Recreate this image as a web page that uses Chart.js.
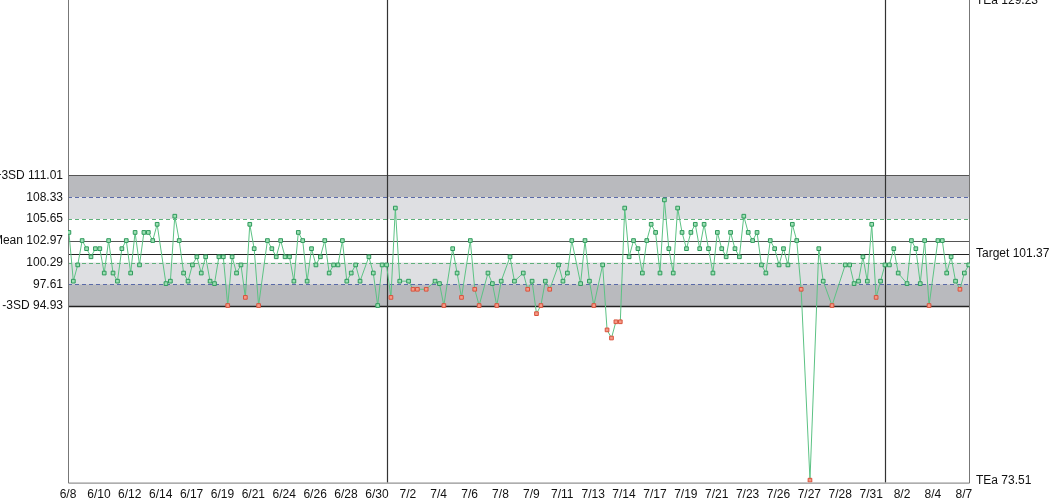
<!DOCTYPE html>
<html>
<head>
<meta charset="utf-8">
<script src="https://cdn.jsdelivr.net/npm/chart.js@4"></script>
<style>
  body { margin: 0; background: #fff; }
  #wrap { width: 1050px; height: 503px; position: relative; }
</style>
</head>
<body>
<div id="wrap"><canvas id="chart"></canvas></div>
<script>
// control runs in order, 'r' = rejected run, null = gap in run sequence
const runs = [
  '104','98','100','103','102','101','102','102','99','103','99','98','102','103','99','104','100','104','104','103','105',null,
  '97.7','98','106','103','99','98','100','101','99','101','98','97.7','101','101','95r','101','99','100','96r','105','102','95r',null,
  '103','102','101','103','101','101','98','104',
  '103','98','102','100','101','103','99','100','100','103','98','99','100','98',null,'101','99','95','100','100','96r','107','98',null,
  '98','97r','97r',null,'97r',null,'98','97.7','95r',null,'102','99','96r',null,'103','97r','95r',null,'99','97.7','95r','98',null,
  '101','98',null,'99','97r',
  '98','94r','95r','98','97r',null,'100','98','99','103',null,'97.7','103','98','95r',null,'100','92r','91r','93r','93r',
  '107','101','103','102','99','103','105','104','99','108','102','99','107','104','102','104','105','102','105','102','99',
  '104','102','101','104','102','101','106','104','103',
  '104','100','99','103','102','100','102','100','105','103','97r',null,'73.5r',null,'102','98',null,'95r',null,null,
  '100','100','97.7','98','101','98','105','96r','98','100','100','102','99',null,'97.7','103','102','97.7','103','95r',null,
  '103','103','99','101','98','97r','99','100'
];
const dateLabels = ['6/8','6/10','6/12','6/14','6/17','6/19','6/21','6/24','6/26','6/28','6/30','7/2','7/4','7/6','7/8',
  '7/9','7/11','7/13','7/14','7/17','7/19','7/21','7/23','7/26','7/27','7/28','7/31','8/2','8/4','8/7'];
const limits = { tea_hi: 129.23, sd3p: 111.01, sd2p: 108.33, sd1p: 105.65, mean: 102.97, sd1m: 100.29, sd2m: 97.61, sd3m: 94.93, tea_lo: 73.51 };
const target = 101.37;
const dividers = [10.32, 26.44]; // in date-tick units

const N = runs.length;
const xEnd = 29.13;
const pts = runs.map((r, i) => ({ x: 0.03 + i * xEnd / (N - 1), y: r === null ? null : parseFloat(r) }));
const isRed = runs.map(r => r !== null && r.endsWith('r'));
const FONT = '"Liberation Sans Narrow", "Liberation Sans", Arial, sans-serif';

const guides = {
  id: 'guides',
  beforeDatasetsDraw(chart) {
    const { ctx, chartArea: a, scales: { x, y } } = chart;
    const band = (v1, v2, c) => { ctx.fillStyle = c; ctx.fillRect(a.left, y.getPixelForValue(v1), a.right - a.left, y.getPixelForValue(v2) - y.getPixelForValue(v1)); };
    ctx.save();
    band(limits.sd3p, limits.sd2p, '#b9babe');
    band(limits.sd2p, limits.sd1p, '#dedfe2');
    band(limits.sd1m, limits.sd2m, '#dedfe2');
    band(limits.sd2m, limits.sd3m, '#b9babe');
    const hline = (v, c, dash, w) => {
      const py = Math.round(y.getPixelForValue(v)) + 0.5;
      ctx.strokeStyle = c; ctx.lineWidth = w; ctx.setLineDash(dash);
      ctx.beginPath(); ctx.moveTo(a.left, py); ctx.lineTo(a.right, py); ctx.stroke();
    };
    hline(limits.sd3p, '#555', [], 1);
    hline(limits.sd2p, '#5a6aa8', [4, 3], 1);
    hline(limits.sd1p, '#5fb07a', [4, 3], 1);
    hline(limits.mean, '#555', [], 1.2);
    hline(target, '#222', [], 1.2);
    hline(limits.sd1m, '#5fb07a', [4, 3], 1);
    hline(limits.sd2m, '#5a6aa8', [4, 3], 1);
    hline(limits.sd3m, '#222', [], 1.5);
    ctx.setLineDash([]);
    ctx.strokeStyle = '#333'; ctx.lineWidth = 1.2;
    dividers.forEach(d => {
      const px = Math.round(x.getPixelForValue(d)) + 0.5;
      ctx.beginPath(); ctx.moveTo(px, 0); ctx.lineTo(px, a.bottom); ctx.stroke();
    });
    ctx.strokeStyle = '#777'; ctx.lineWidth = 1;
    ctx.beginPath();
    ctx.moveTo(a.left + 0.5, 0); ctx.lineTo(a.left + 0.5, a.bottom + 0.5);
    ctx.lineTo(a.right - 0.5, a.bottom + 0.5); ctx.lineTo(a.right - 0.5, 0);
    ctx.stroke();
    ctx.restore();
  },
  afterDraw(chart) {
    const { ctx, chartArea: a, scales: { y } } = chart;
    ctx.save();
    ctx.font = '12px ' + FONT;
    ctx.fillStyle = '#111';
    ctx.textBaseline = 'middle';
    ctx.textAlign = 'right';
    const left = [['+3SD ' + limits.sd3p.toFixed(2), limits.sd3p], [limits.sd2p.toFixed(2), limits.sd2p], [limits.sd1p.toFixed(2), limits.sd1p],
      ['Mean ' + limits.mean.toFixed(2), limits.mean], [limits.sd1m.toFixed(2), limits.sd1m], [limits.sd2m.toFixed(2), limits.sd2m], ['-3SD ' + limits.sd3m.toFixed(2), limits.sd3m]];
    left.forEach(([t, v]) => ctx.fillText(t, a.left - 5, y.getPixelForValue(v)));
    ctx.textAlign = 'left';
    ctx.fillText('TEa ' + limits.tea_hi.toFixed(2), a.right + 6, 1);
    ctx.fillText('Target ' + target.toFixed(2), a.right + 6, y.getPixelForValue(target));
    ctx.fillText('TEa ' + limits.tea_lo.toFixed(2), a.right + 6, a.bottom - 2);
    ctx.restore();
  }
};

new Chart(document.getElementById('chart'), {
  type: 'line',
  data: {
    datasets: [{
      data: pts,
      borderColor: '#5cc284',
      borderWidth: 1,
      spanGaps: true,
      tension: 0,
      pointStyle: 'rect',
      pointRadius: 2.6,
      pointBorderWidth: 1,
      pointBackgroundColor: ctx => isRed[ctx.dataIndex] ? '#f59a88' : '#9ee0b4',
      pointBorderColor: ctx => isRed[ctx.dataIndex] ? '#d8533c' : '#2f9a5c'
    }]
  },
  plugins: [guides],
  options: {
    responsive: true,
    maintainAspectRatio: false,
    animation: false,
    plugins: { legend: { display: false }, tooltip: { enabled: false } },
    layout: { padding: { left: 0, right: 0, top: 0, bottom: 0 } },
    scales: {
      x: {
        type: 'linear', min: 0, max: 29.2,
        grid: { display: false, drawTicks: true, tickLength: 4, tickColor: '#666' },
        border: { display: false },
        afterBuildTicks: ax => { ax.ticks = dateLabels.map((l, i) => ({ value: i })); },
        ticks: {
          autoSkip: false, maxRotation: 0, padding: 1, color: '#111',
          font: { family: FONT, size: 12 },
          callback: (v, i) => dateLabels[i]
        }
      },
      y: {
        min: 73.2, max: 132.0,
        grid: { display: false },
        border: { display: false },
        ticks: { display: false },
        afterFit: ax => { ax.width = 68; }
      },
      y2: {
        position: 'right', min: 73.2, max: 132.0,
        grid: { display: false },
        border: { display: false },
        ticks: { display: false },
        afterFit: ax => { ax.width = 80; }
      }
    }
  }
});
</script>
</body>
</html>
